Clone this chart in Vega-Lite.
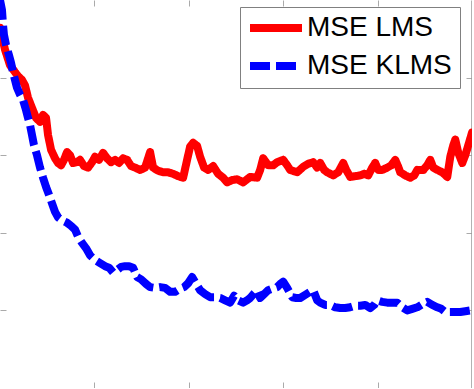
{
  "$schema": "https://vega.github.io/schema/vega-lite/v6.json",
  "autosize": "none",
  "padding": 0,
  "width": 472,
  "height": 388,
  "background": "white",
  "config": {
    "view": {"stroke": null},
    "axis": {"labels": false, "grid": false, "title": null, "domain": false, "ticks": true, "tickColor": "#aaaaaa", "tickWidth": 1, "tickSize": -6}
  },
  "datasets": {
    "lms": [
      {"it": 0, "mse": 4.64}, {"it": 53, "mse": 4.36}, {"it": 106, "mse": 4.16}, {"it": 159, "mse": 4.07}, {"it": 191, "mse": 4.02}, {"it": 233, "mse": 3.97}, {"it": 265, "mse": 3.9}, {"it": 297, "mse": 3.74}, {"it": 339, "mse": 3.61}, {"it": 382, "mse": 3.48}, {"it": 424, "mse": 3.43}, {"it": 456, "mse": 3.52}, {"it": 488, "mse": 3.48}, {"it": 509, "mse": 3.26}, {"it": 541, "mse": 3.07}, {"it": 583, "mse": 2.96}, {"it": 615, "mse": 2.9}, {"it": 647, "mse": 2.87}, {"it": 678, "mse": 2.94}, {"it": 710, "mse": 3.04}, {"it": 742, "mse": 3.0}, {"it": 774, "mse": 2.9}, {"it": 816, "mse": 2.91}, {"it": 848, "mse": 2.94}, {"it": 890, "mse": 2.86}, {"it": 933, "mse": 2.84}, {"it": 975, "mse": 2.91}, {"it": 1007, "mse": 2.98}, {"it": 1049, "mse": 2.94}, {"it": 1092, "mse": 3.03}, {"it": 1134, "mse": 2.96}, {"it": 1177, "mse": 2.91}, {"it": 1219, "mse": 2.94}, {"it": 1261, "mse": 2.9}, {"it": 1304, "mse": 2.96}, {"it": 1346, "mse": 2.94}, {"it": 1389, "mse": 2.86}, {"it": 1431, "mse": 2.84}, {"it": 1484, "mse": 2.81}, {"it": 1537, "mse": 2.84}, {"it": 1590, "mse": 3.04}, {"it": 1622, "mse": 2.84}, {"it": 1675, "mse": 2.8}, {"it": 1728, "mse": 2.78}, {"it": 1781, "mse": 2.78}, {"it": 1834, "mse": 2.76}, {"it": 1887, "mse": 2.73}, {"it": 1940, "mse": 2.71}, {"it": 1982, "mse": 2.94}, {"it": 2014, "mse": 3.11}, {"it": 2046, "mse": 3.16}, {"it": 2088, "mse": 3.12}, {"it": 2120, "mse": 2.98}, {"it": 2162, "mse": 2.84}, {"it": 2205, "mse": 2.81}, {"it": 2258, "mse": 2.86}, {"it": 2311, "mse": 2.76}, {"it": 2364, "mse": 2.71}, {"it": 2406, "mse": 2.65}, {"it": 2459, "mse": 2.68}, {"it": 2512, "mse": 2.69}, {"it": 2576, "mse": 2.65}, {"it": 2650, "mse": 2.72}, {"it": 2724, "mse": 2.71}, {"it": 2756, "mse": 2.81}, {"it": 2788, "mse": 2.96}, {"it": 2841, "mse": 2.87}, {"it": 2894, "mse": 2.87}, {"it": 2936, "mse": 2.91}, {"it": 3000, "mse": 2.94}, {"it": 3042, "mse": 2.87}, {"it": 3074, "mse": 2.81}, {"it": 3148, "mse": 2.78}, {"it": 3212, "mse": 2.85}, {"it": 3265, "mse": 2.89}, {"it": 3318, "mse": 2.91}, {"it": 3360, "mse": 2.84}, {"it": 3392, "mse": 2.9}, {"it": 3434, "mse": 2.81}, {"it": 3466, "mse": 2.78}, {"it": 3530, "mse": 2.74}, {"it": 3583, "mse": 2.78}, {"it": 3636, "mse": 2.9}, {"it": 3668, "mse": 2.81}, {"it": 3710, "mse": 2.72}, {"it": 3763, "mse": 2.73}, {"it": 3816, "mse": 2.74}, {"it": 3858, "mse": 2.76}, {"it": 3901, "mse": 2.74}, {"it": 3943, "mse": 2.84}, {"it": 3975, "mse": 2.9}, {"it": 4007, "mse": 2.81}, {"it": 4049, "mse": 2.81}, {"it": 4102, "mse": 2.84}, {"it": 4145, "mse": 2.87}, {"it": 4187, "mse": 2.94}, {"it": 4219, "mse": 2.85}, {"it": 4240, "mse": 2.78}, {"it": 4293, "mse": 2.74}, {"it": 4346, "mse": 2.71}, {"it": 4388, "mse": 2.74}, {"it": 4420, "mse": 2.81}, {"it": 4484, "mse": 2.81}, {"it": 4526, "mse": 2.87}, {"it": 4558, "mse": 2.94}, {"it": 4590, "mse": 2.84}, {"it": 4632, "mse": 2.81}, {"it": 4685, "mse": 2.78}, {"it": 4738, "mse": 2.72}, {"it": 4770, "mse": 2.98}, {"it": 4802, "mse": 3.13}, {"it": 4823, "mse": 3.2}, {"it": 4855, "mse": 3.03}, {"it": 4897, "mse": 2.9}, {"it": 4929, "mse": 3.0}, {"it": 4961, "mse": 3.13}, {"it": 5000, "mse": 3.29}
    ],
    "klms": [
      {"it": 0, "mse": 5.0}, {"it": 21, "mse": 4.87}, {"it": 32, "mse": 4.68}, {"it": 42, "mse": 4.55}, {"it": 64, "mse": 4.42}, {"it": 95, "mse": 4.29}, {"it": 117, "mse": 4.19}, {"it": 138, "mse": 4.07}, {"it": 159, "mse": 3.97}, {"it": 180, "mse": 3.87}, {"it": 212, "mse": 3.78}, {"it": 244, "mse": 3.71}, {"it": 276, "mse": 3.58}, {"it": 297, "mse": 3.48}, {"it": 318, "mse": 3.39}, {"it": 339, "mse": 3.26}, {"it": 360, "mse": 3.13}, {"it": 392, "mse": 3.0}, {"it": 424, "mse": 2.84}, {"it": 456, "mse": 2.71}, {"it": 488, "mse": 2.59}, {"it": 519, "mse": 2.49}, {"it": 551, "mse": 2.38}, {"it": 583, "mse": 2.27}, {"it": 615, "mse": 2.2}, {"it": 657, "mse": 2.16}, {"it": 710, "mse": 2.13}, {"it": 753, "mse": 2.09}, {"it": 795, "mse": 2.04}, {"it": 827, "mse": 1.95}, {"it": 869, "mse": 1.87}, {"it": 912, "mse": 1.8}, {"it": 954, "mse": 1.71}, {"it": 1007, "mse": 1.65}, {"it": 1060, "mse": 1.61}, {"it": 1113, "mse": 1.57}, {"it": 1155, "mse": 1.55}, {"it": 1198, "mse": 1.49}, {"it": 1240, "mse": 1.52}, {"it": 1283, "mse": 1.56}, {"it": 1325, "mse": 1.57}, {"it": 1367, "mse": 1.57}, {"it": 1410, "mse": 1.55}, {"it": 1452, "mse": 1.43}, {"it": 1495, "mse": 1.4}, {"it": 1548, "mse": 1.34}, {"it": 1590, "mse": 1.3}, {"it": 1643, "mse": 1.29}, {"it": 1696, "mse": 1.3}, {"it": 1749, "mse": 1.29}, {"it": 1802, "mse": 1.24}, {"it": 1855, "mse": 1.24}, {"it": 1908, "mse": 1.28}, {"it": 1950, "mse": 1.3}, {"it": 1993, "mse": 1.35}, {"it": 2035, "mse": 1.43}, {"it": 2078, "mse": 1.34}, {"it": 2120, "mse": 1.26}, {"it": 2173, "mse": 1.21}, {"it": 2226, "mse": 1.17}, {"it": 2279, "mse": 1.17}, {"it": 2332, "mse": 1.16}, {"it": 2385, "mse": 1.13}, {"it": 2438, "mse": 1.1}, {"it": 2480, "mse": 1.19}, {"it": 2523, "mse": 1.13}, {"it": 2576, "mse": 1.1}, {"it": 2618, "mse": 1.13}, {"it": 2650, "mse": 1.16}, {"it": 2692, "mse": 1.22}, {"it": 2724, "mse": 1.26}, {"it": 2756, "mse": 1.16}, {"it": 2798, "mse": 1.21}, {"it": 2841, "mse": 1.26}, {"it": 2883, "mse": 1.28}, {"it": 2936, "mse": 1.3}, {"it": 2968, "mse": 1.34}, {"it": 3000, "mse": 1.37}, {"it": 3042, "mse": 1.29}, {"it": 3095, "mse": 1.17}, {"it": 3138, "mse": 1.16}, {"it": 3180, "mse": 1.16}, {"it": 3233, "mse": 1.2}, {"it": 3286, "mse": 1.24}, {"it": 3318, "mse": 1.26}, {"it": 3360, "mse": 1.13}, {"it": 3392, "mse": 1.1}, {"it": 3445, "mse": 1.07}, {"it": 3498, "mse": 1.07}, {"it": 3551, "mse": 1.04}, {"it": 3604, "mse": 1.03}, {"it": 3657, "mse": 1.03}, {"it": 3710, "mse": 1.04}, {"it": 3763, "mse": 1.06}, {"it": 3816, "mse": 1.06}, {"it": 3869, "mse": 1.07}, {"it": 3922, "mse": 1.03}, {"it": 3964, "mse": 1.07}, {"it": 3996, "mse": 1.13}, {"it": 4049, "mse": 1.11}, {"it": 4102, "mse": 1.1}, {"it": 4155, "mse": 1.1}, {"it": 4208, "mse": 1.1}, {"it": 4261, "mse": 1.04}, {"it": 4314, "mse": 1.0}, {"it": 4367, "mse": 1.02}, {"it": 4420, "mse": 1.04}, {"it": 4473, "mse": 1.08}, {"it": 4526, "mse": 1.11}, {"it": 4579, "mse": 1.07}, {"it": 4632, "mse": 1.04}, {"it": 4675, "mse": 1.02}, {"it": 4717, "mse": 0.98}, {"it": 4770, "mse": 0.98}, {"it": 4823, "mse": 0.98}, {"it": 4876, "mse": 0.98}, {"it": 4929, "mse": 0.99}, {"it": 4982, "mse": 1.0}
    ]
  },
  "layer": [
    {
      "data": {"name": "lms"},
      "mark": {"type": "line", "strokeWidth": 8, "strokeJoin": "round", "strokeCap": "round"},
      "encoding": {
        "x": {"field": "it", "type": "quantitative", "scale": {"domain": [0, 5000], "nice": false, "zero": false}, "axis": {"orient": "bottom", "values": [1000, 2000, 3000, 4000]}},
        "y": {"field": "mse", "type": "quantitative", "scale": {"domain": [0, 5], "nice": false, "zero": false}, "axis": {"orient": "left", "values": [1, 2, 3, 4]}},
        "color": {"datum": "MSE LMS", "type": "nominal",
          "scale": {"domain": ["MSE LMS", "MSE KLMS"], "range": ["#ff0000", "#0000ff"]},
          "legend": {"orient": "none", "legendX": 240, "legendY": 7, "title": null, "strokeColor": "#808080", "fillColor": "white", "padding": 8, "symbolType": "stroke", "symbolSize": 2704, "symbolStrokeWidth": 8, "labelFontSize": 28, "labelFont": "Liberation Sans", "labelColor": "black", "clipHeight": 26, "rowPadding": 10, "symbolOffset": -2, "labelOffset": 1}},
        "strokeDash": {"datum": "MSE LMS", "type": "nominal",
          "scale": {"domain": ["MSE LMS", "MSE KLMS"], "range": [[1, 0], [20, 6]]},
          "legend": {"orient": "none", "legendX": 240, "legendY": 7, "title": null, "strokeColor": "#808080", "fillColor": "white", "padding": 8, "symbolType": "stroke", "symbolSize": 2704, "symbolStrokeWidth": 8, "labelFontSize": 28, "labelFont": "Liberation Sans", "labelColor": "black", "clipHeight": 26, "rowPadding": 10, "symbolOffset": -2, "labelOffset": 1}}
      }
    },
    {
      "data": {"name": "klms"},
      "mark": {"type": "line", "strokeWidth": 8, "strokeJoin": "round", "strokeCap": "butt"},
      "encoding": {
        "x": {"field": "it", "type": "quantitative", "scale": {"domain": [0, 5000], "nice": false, "zero": false}, "axis": null},
        "y": {"field": "mse", "type": "quantitative", "scale": {"domain": [0, 5], "nice": false, "zero": false}, "axis": null},
        "color": {"datum": "MSE KLMS", "type": "nominal"},
        "strokeDash": {"datum": "MSE KLMS", "type": "nominal"}
      }
    },
    {
      "data": {"name": "lms"},
      "mark": {"type": "line", "opacity": 0},
      "encoding": {
        "x": {"field": "it", "type": "quantitative", "scale": {"domain": [0, 5000], "nice": false, "zero": false}, "axis": {"orient": "top", "values": [1000, 2000, 3000, 4000]}},
        "y": {"field": "mse", "type": "quantitative", "scale": {"domain": [0, 5], "nice": false, "zero": false}, "axis": {"orient": "right", "values": [1, 2, 3, 4], "domain": true, "domainColor": "#999999", "domainWidth": 2.5}}
      }
    }
  ],
  "resolve": {"scale": {"x": "independent", "y": "independent", "color": "shared", "strokeDash": "shared"}}
}
